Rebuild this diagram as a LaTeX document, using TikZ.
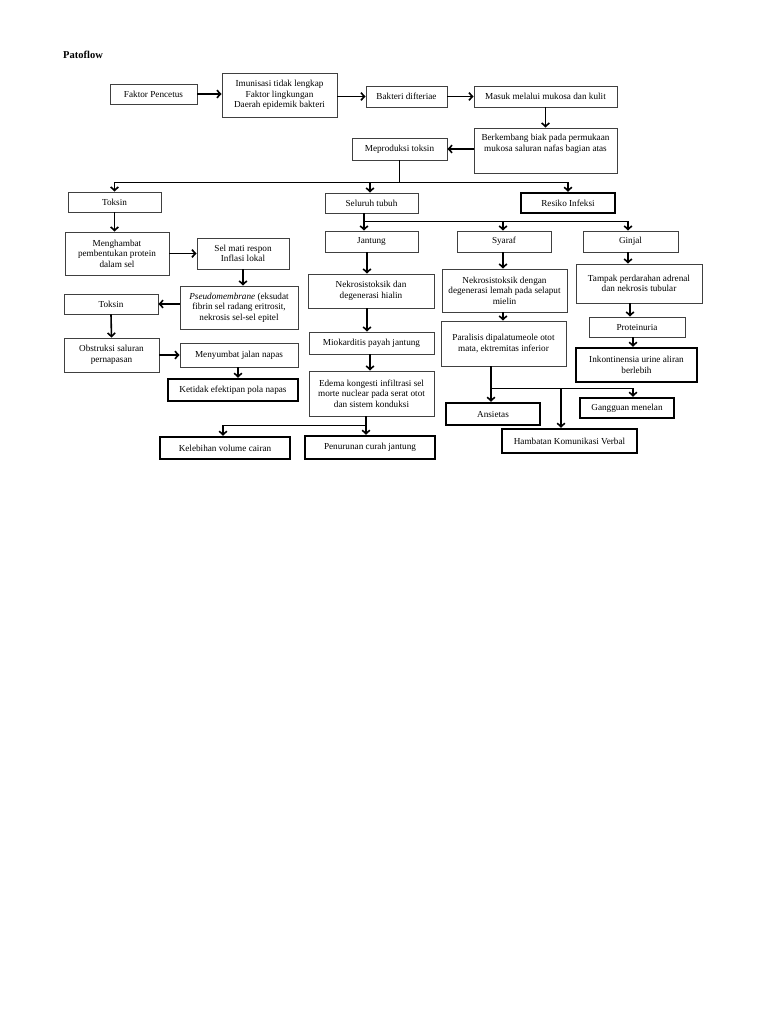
\documentclass[tikz,border=0pt]{standalone}
\usepackage{fontspec}
\setmainfont{Liberation Serif}
\usetikzlibrary{arrows.meta}

\begin{document}
\begin{tikzpicture}[x=1pt,y=-1pt]

\tikzset{
    box/.style={draw=black!75, line width=0.9pt, align=center, inner sep=1pt, font=\fontsize{9.2}{10.5}\selectfont},
    boxbold/.style={box, draw=black, line width=2.4pt},
    arr/.style={line width=1.6pt, -{Straight Barb[length=3.5pt,width=7.5pt]}},
    link/.style={line width=1.6pt}
}
\useasboundingbox (0,0) rectangle (768,1024);
\node[anchor=west, inner sep=0pt, font=\fontsize{10.5}{12}\selectfont\bfseries] (title) at (63,55) {Patoflow};

% top row
\node[box, minimum width=87, minimum height=20] (faktor) at (153.5,94) {Faktor Pencetus};
\node[box, minimum width=115, minimum height=44] (imun) at (279.5,95) {Imunisasi tidak lengkap\\Faktor lingkungan\\Daerah epidemik bakteri};
\node[box, minimum width=81, minimum height=21] (bakteri) at (406.5,96.5) {Bakteri difteriae};
\node[box, minimum width=143, minimum height=21] (masuk) at (545.5,96.5) {Masuk melalui mukosa dan kulit};
\node[box, minimum width=143, minimum height=45, text depth=15pt] (biak) at (545.5,150.5) {Berkembang biak pada permukaan\\mukosa saluran nafas bagian atas};
\node[box, minimum width=95, minimum height=22] (toksin) at (399.5,149) {Meproduksi toksin};

% second row
\node[box, minimum width=93, minimum height=20] (toksinA) at (114.5,202) {Toksin};
\node[box, minimum width=93, minimum height=20] (tubuh) at (371.5,203) {Seluruh tubuh};
\node[boxbold, minimum width=94, minimum height=20] (infeksi) at (568,203) {Resiko Infeksi};

% left branch
\node[box, minimum width=104, minimum height=43] (hambat) at (117,253.5) {Menghambat\\pembentukan protein\\dalam sel};
\node[box, minimum width=92, minimum height=31] (selmati) at (243,253.5) {Sel mati respon\\Inflasi lokal};
\node[box, minimum width=118, minimum height=43] (pseudo) at (239,307.5) {\textit{Pseudomembrane} (eksudat\\fibrin sel radang eritrosit,\\nekrosis sel-sel epitel};
\node[box, minimum width=94, minimum height=20] (toksinB) at (111,304) {Toksin};
\node[box, minimum width=95, minimum height=34] (obstruksi) at (111.5,355) {Obstruksi saluran\\pernapasan};
\node[box, minimum width=118, minimum height=24] (sumbat) at (239,355) {Menyumbat jalan napas};
\node[boxbold, minimum width=130, minimum height=22] (polanapas) at (233,390) {Ketidak efektipan pola napas};
\node[boxbold, minimum width=130, minimum height=22] (cairan) at (225,448) {Kelebihan volume cairan};

% organs
\node[box, minimum width=93, minimum height=21] (jantung) at (371.5,241.5) {Jantung};
\node[box, minimum width=94, minimum height=21] (syaraf) at (504,241.5) {Syaraf};
\node[box, minimum width=95, minimum height=21] (ginjal) at (630.5,241.5) {Ginjal};

% jantung
\node[box, minimum width=126, minimum height=34] (hialin) at (371,291) {Nekrosistoksik dan\\degenerasi hialin};
\node[box, minimum width=125, minimum height=22] (miokard) at (371.5,343) {Miokarditis payah jantung};
\node[box, minimum width=125, minimum height=45] (edema) at (371.5,393.5) {Edema kongesti infiltrasi sel\\morte nuclear pada serat otot\\dan sistem konduksi};
\node[boxbold, minimum width=130, minimum height=23] (curah) at (370,447.5) {Penurunan curah jantung};

% syaraf
\node[box, minimum width=125, minimum height=43] (mielin) at (504.5,290.5) {Nekrosistoksik dengan\\degenerasi lemah pada selaput\\mielin};
\node[box, minimum width=125, minimum height=45] (paralisis) at (503.5,343.5) {Paralisis dipalatumeole otot\\mata, ektremitas inferior};
\node[boxbold, minimum width=94, minimum height=22] (ansietas) at (493,414) {Ansietas};
\node[boxbold, minimum width=94, minimum height=20] (menelan) at (627,408) {Gangguan menelan};
\node[boxbold, minimum width=135, minimum height=24] (verbal) at (569.5,441) {Hambatan Komunikasi Verbal};

% ginjal
\node[box, minimum width=126, minimum height=39] (adrenal) at (639,283.5) {Tampak perdarahan adrenal\\dan nekrosis tubular};
\node[box, minimum width=96, minimum height=20] (protein) at (637,327) {Proteinuria};
\node[boxbold, minimum width=121, minimum height=34] (urine) at (636.5,365) {Inkontinensia urine aliran\\berlebih};

% connectors
\draw[arr] (faktor.east) -- (faktor.east -| imun.west);
\draw[arr] (imun.east |- bakteri) -- (bakteri.west);
\draw[arr] (bakteri.east) -- (masuk.west);
\draw[arr] (masuk.south) -- (biak.north);
\draw[arr] (toksin -| biak.west) -- (toksin.east);
\draw[link] (toksin.south) -- ++(0,22) coordinate (j1);
\draw[arr] (j1) -| (toksinA.north);
\draw[arr] (j1) -| ([xshift=-1.5pt]tubuh.north);
\draw[arr] (j1) -| (infeksi.north);

\draw[arr] (toksinA.south) -- (toksinA.south |- hambat.north);
\draw[arr] (hambat.east |- selmati) -- (selmati.west);
\draw[arr] (selmati.south) -- (selmati.south |- pseudo.north);
\draw[arr] (pseudo.west |- toksinB) -- (toksinB.east);
\draw[arr] (toksinB.south) -- (obstruksi.north);
\draw[arr] (obstruksi.east) -- (obstruksi.east -| sumbat.west);
\draw[arr] ([xshift=-1pt]sumbat.south) -- ([xshift=-1pt]sumbat.south |- polanapas.north);

\draw[link] ([xshift=-7.5pt]tubuh.south) -- ++(0,8) coordinate (j2);
\draw[arr] (j2) -- (j2 |- jantung.north);
\draw[arr] (j2) -| ([xshift=-1pt]syaraf.north);
\draw[arr] (j2) -| ([xshift=-2.5pt]ginjal.north);

\draw[arr] ([xshift=-4.5pt]jantung.south) -- ([xshift=-4.5pt]jantung.south |- hialin.north);
\draw[arr] ([xshift=-4pt]hialin.south) -- ([xshift=-4pt]hialin.south |- miokard.north);
\draw[arr] ([xshift=-1.5pt]miokard.south) -- ([xshift=-1.5pt]miokard.south |- edema.north);
\draw[link] ([xshift=-5.5pt]edema.south) -- ++(0,9) coordinate (j3);
\draw[arr] (j3) -- (j3 |- curah.north);
\draw[arr] (j3) -| ([xshift=-2pt]cairan.north);

\draw[arr] ([xshift=-1pt]syaraf.south) -- ([xshift=-1pt]syaraf.south |- mielin.north);
\draw[arr] ([xshift=-1.5pt]mielin.south) -- ([xshift=-1.5pt]mielin.south |- paralisis.north);
\draw[link] ([xshift=-12.5pt]paralisis.south) -- ++(0,22) coordinate (j4);
\draw[arr] (j4) -- (j4 |- ansietas.north);
\draw[arr] (j4) -| ([xshift=-8.5pt]verbal.north);
\draw[arr] (j4) -| ([xshift=6pt]menelan.north);

\draw[arr] ([xshift=-2.5pt]ginjal.south) -- ([xshift=-2.5pt]ginjal.south |- adrenal.north);
\draw[arr] ([xshift=-9pt]adrenal.south) -- ([xshift=-9pt]adrenal.south |- protein.north);
\draw[arr] ([xshift=-4pt]protein.south) -- ([xshift=-4pt]protein.south |- urine.north);
\end{tikzpicture}
\end{document}
